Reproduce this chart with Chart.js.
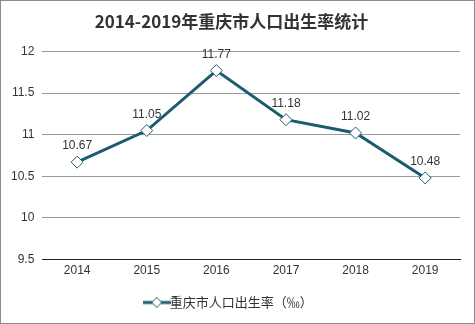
<!DOCTYPE html>
<html>
<head>
<meta charset="utf-8">
<script src="https://cdn.jsdelivr.net/npm/chart.js@4/dist/chart.umd.min.js"></script>
<style>
    html, body { margin: 0; padding: 0; background: #fff; }
    #wrap { width: 475px; height: 324px; box-sizing: border-box; border: 1px solid #8c8c8c; }
</style>
</head>
<body>
<div id="wrap"><canvas id="birthChart" width="473" height="322"></canvas></div>
<script>
// ─── Data ────────────────────────────────────────────────────────────────
const years = ['2014', '2015', '2016', '2017', '2018', '2019'];
const birthRate = [10.67, 11.05, 11.77, 11.18, 11.02, 10.48];
const yTicks = [9.5, 10, 10.5, 11, 11.5, 12];

const lineColor = '#1b5b6e';
const textColor = '#333333';
const tickFont = { family: 'Liberation Sans', size: 12 };

// legend icon: short line with a diamond in the middle
function legendIcon() {
    const c = document.createElement('canvas');
    c.width = 28; c.height = 12;
    const g = c.getContext('2d');
    g.strokeStyle = lineColor;
    g.lineWidth = 3;
    g.beginPath(); g.moveTo(0, 6); g.lineTo(28, 6); g.stroke();
    g.fillStyle = '#fff';
    g.lineWidth = 1;
    g.beginPath();
    g.moveTo(14, 1); g.lineTo(19, 6); g.lineTo(14, 11); g.lineTo(9, 6); g.closePath();
    g.fill(); g.stroke();
    return c;
}

// value labels above each point
const valueLabels = {
    id: 'valueLabels',
    afterDatasetsDraw(chart) {
        const ctx = chart.ctx;
        const meta = chart.getDatasetMeta(0);
        ctx.save();
        ctx.font = '12px "Liberation Sans"';
        ctx.fillStyle = textColor;
        ctx.textAlign = 'center';
        ctx.textBaseline = 'bottom';
        meta.data.forEach(function (pt, i) {
            ctx.fillText(birthRate[i].toFixed(2), pt.x, pt.y - 10);
        });
        ctx.restore();
    }
};

new Chart(document.getElementById('birthChart'), {
    type: 'line',
    data: {
        labels: years,
        datasets: [{
            label: '重庆市人口出生率（‰）',
            data: birthRate,
            borderColor: lineColor,
            borderWidth: 3,
            tension: 0,
            pointStyle: 'rectRot',
            pointRadius: 6,
            pointHoverRadius: 6,
            pointBackgroundColor: '#fff',
            pointBorderColor: lineColor,
            pointBorderWidth: 1,
        }]
    },
    options: {
        responsive: false,
        animation: false,
        layout: { padding: { left: 2, right: 14, top: 0, bottom: 4 } },
        plugins: {
            title: {
                display: true,
                text: '2014-2019年重庆市人口出生率统计',
                color: textColor,
                font: { family: 'Noto Sans CJK SC', size: 17, weight: 'bold' },
                padding: { top: 10, bottom: 20 }
            },
            legend: {
                position: 'bottom',
                labels: {
                    color: textColor,
                    font: { family: 'Noto Sans CJK SC', size: 13 },
                    usePointStyle: true,
                    padding: 14,
                    generateLabels: function (chart) {
                        const items = Chart.defaults.plugins.legend.labels.generateLabels(chart);
                        items.forEach(function (it) { it.pointStyle = legendIcon(); });
                        return items;
                    }
                }
            },
            tooltip: { enabled: false }
        },
        scales: {
            y: {
                min: 9.5,
                max: 12,
                afterBuildTicks: function (axis) {
                    axis.ticks = yTicks.map(function (v) { return { value: v }; });
                },
                ticks: {
                    color: textColor, font: tickFont, padding: 8,
                    callback: function (v) { return String(v); }
                },
                grid: { color: '#9a9a9a', drawTicks: false },
                border: { display: false }
            },
            x: {
                offset: true,
                ticks: { color: textColor, font: tickFont, padding: 4 },
                grid: { display: false, drawTicks: false },
                border: { color: '#222', width: 1 }
            }
        }
    },
    plugins: [valueLabels]
});
</script>
</body>
</html>
